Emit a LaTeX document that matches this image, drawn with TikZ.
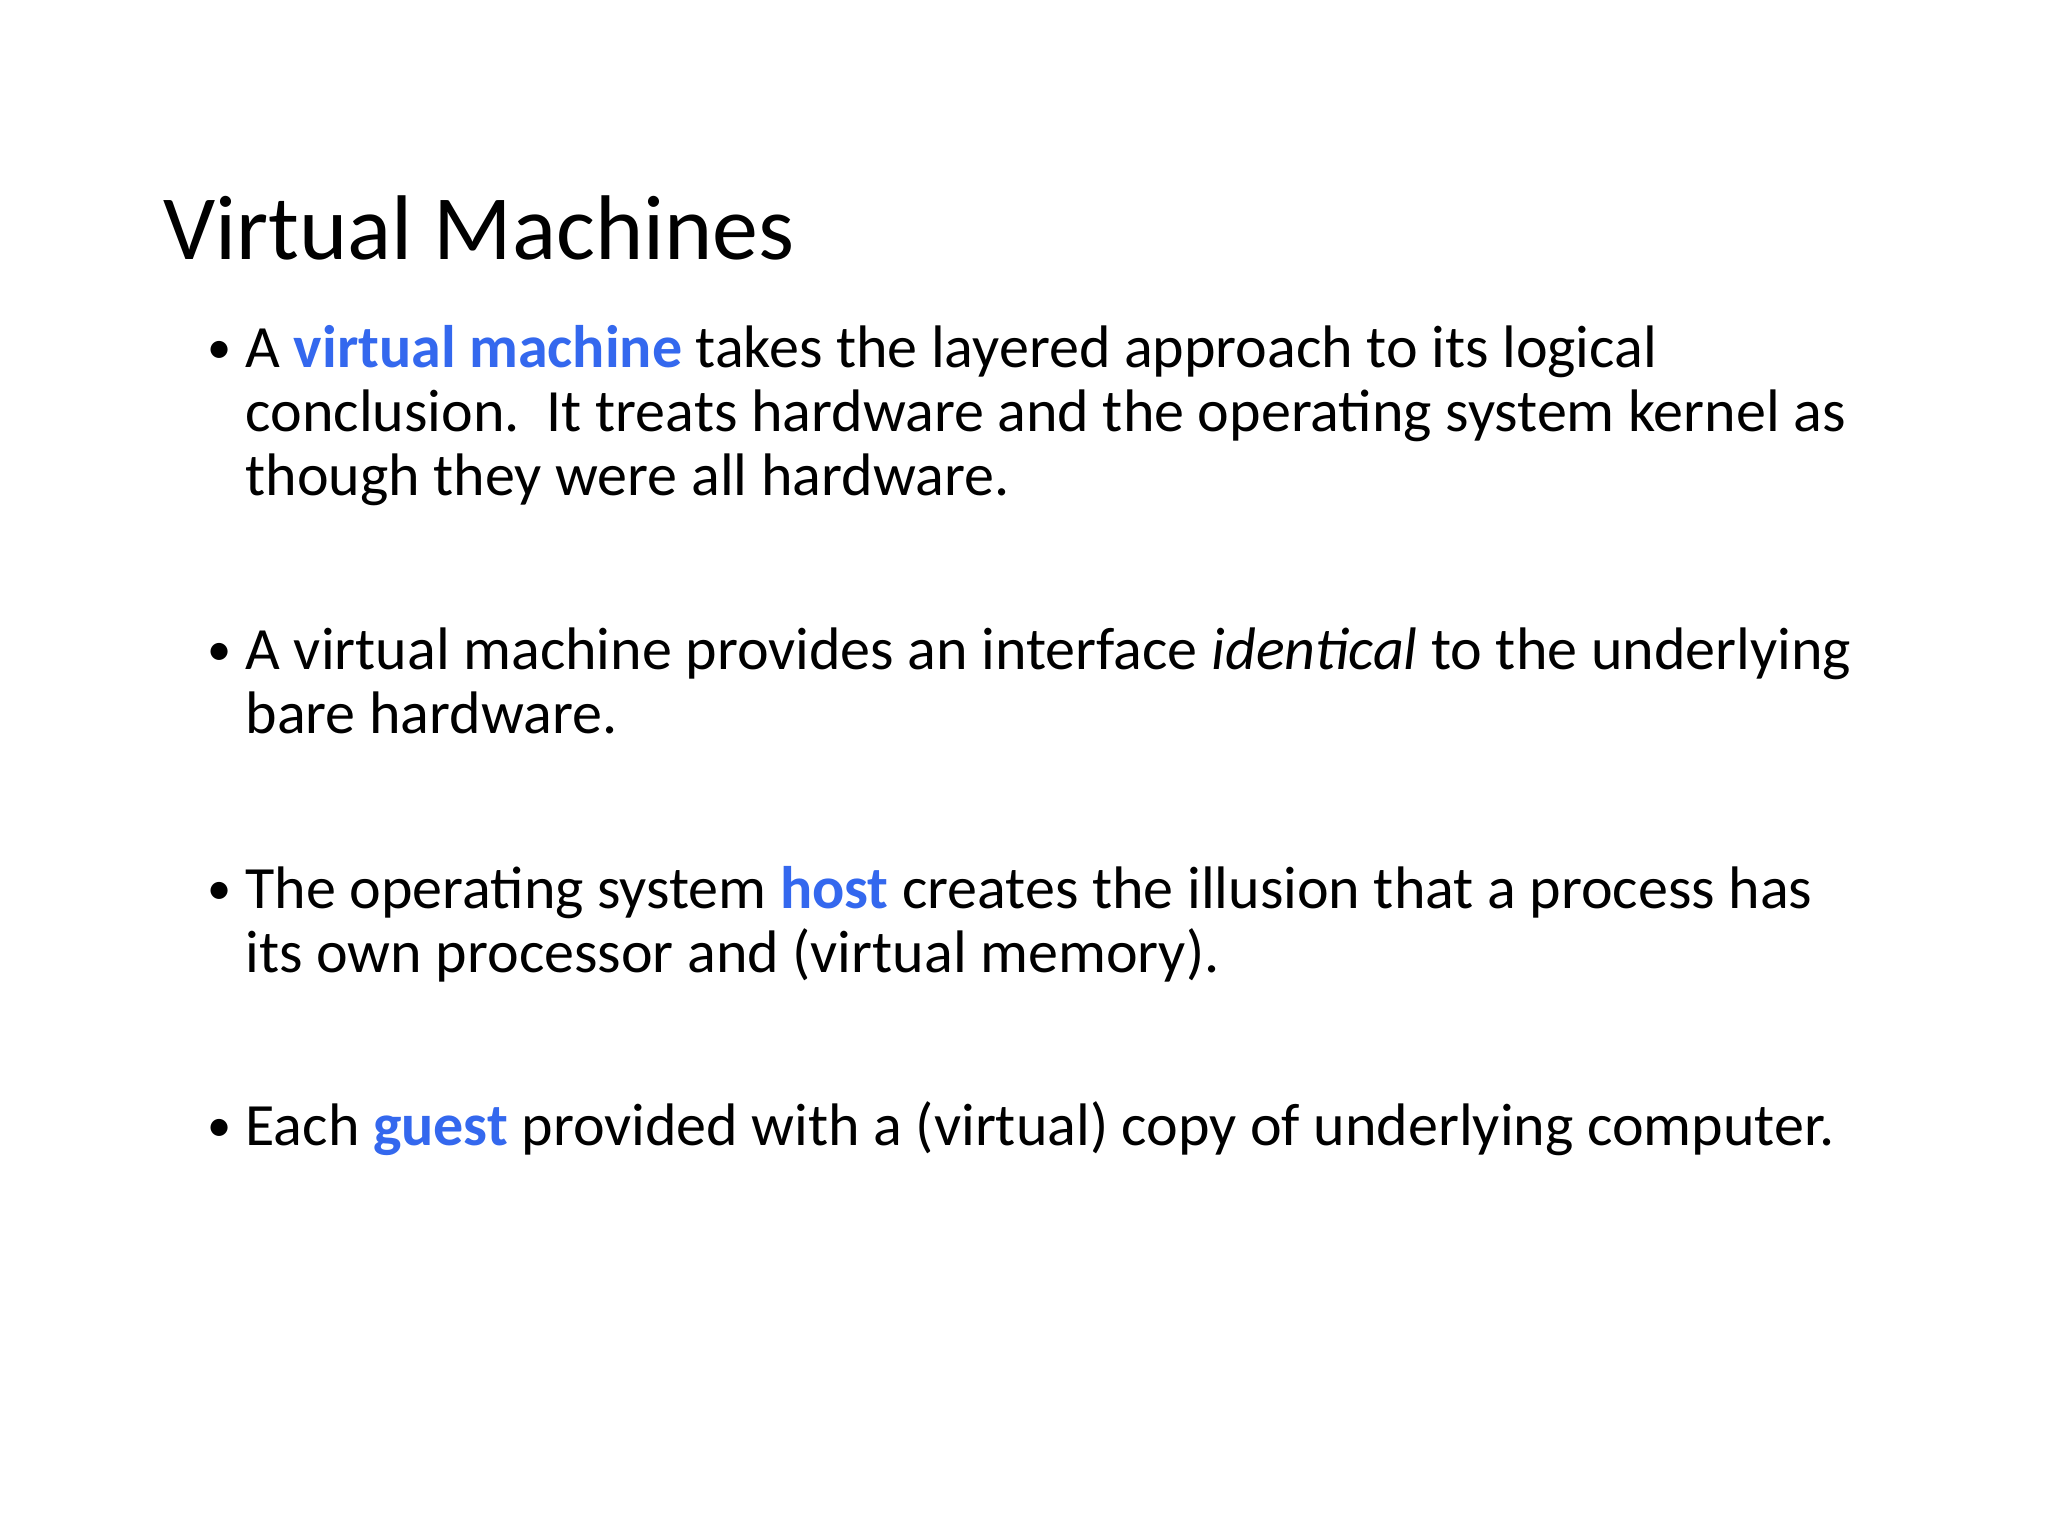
\documentclass[tikz,border=0pt]{standalone}
\usepackage{fontspec}
\setmainfont{Carlito}
\definecolor{keyblue}{RGB}{52,104,238}
\newcommand{\keyword}[1]{\textbf{\textcolor{keyblue}{#1}}}
\tikzset{
  title/.style={anchor=base west, inner sep=0pt, font=\fontsize{32.3}{36}\selectfont},
  dot/.style={anchor=base west, inner sep=0pt, font=\fontsize{17}{20}\selectfont},
  body/.style={anchor=base west, inner sep=0pt, align=left, font=\fontsize{21.1}{22.5}\selectfont}
}
\begin{document}
\begin{tikzpicture}[x=0.3515625pt, y=-0.3515625pt]
  \fill[white] (0,0) rectangle (2048,1536);
  \useasboundingbox (0,0) rectangle (2048,1536);
  \node[title] (head) at (163,260) {Virtual Machines};
  % bullets
  \node[dot] (b1) at (207,364) {•};
  \node[dot] (b2) at (207,665) {•};
  \node[dot] (b3) at (207,904) {•};
  \node[dot] (b4) at (207,1141) {•};
  % base anchor sits on the last line
  \node[body] (t1) at (245,496) {A \keyword{virtual machine} takes the layered approach to its logical\\
    conclusion.\ \ It treats hardware and the operating system kernel as\\
    though they were all hardware.};
  \node[body] (t2) at (245,733) {A virtual machine provides an interface \textit{identical} to the underlying\\
    bare hardware.};
  \node[body] (t3) at (245,972) {The operating system \keyword{host} creates the illusion that a process has\\
    its own processor and (virtual memory).};
  \node[body] (t4) at (245,1145) {Each \keyword{guest} provided with a (virtual) copy of underlying computer.};
\end{tikzpicture}
\end{document}
